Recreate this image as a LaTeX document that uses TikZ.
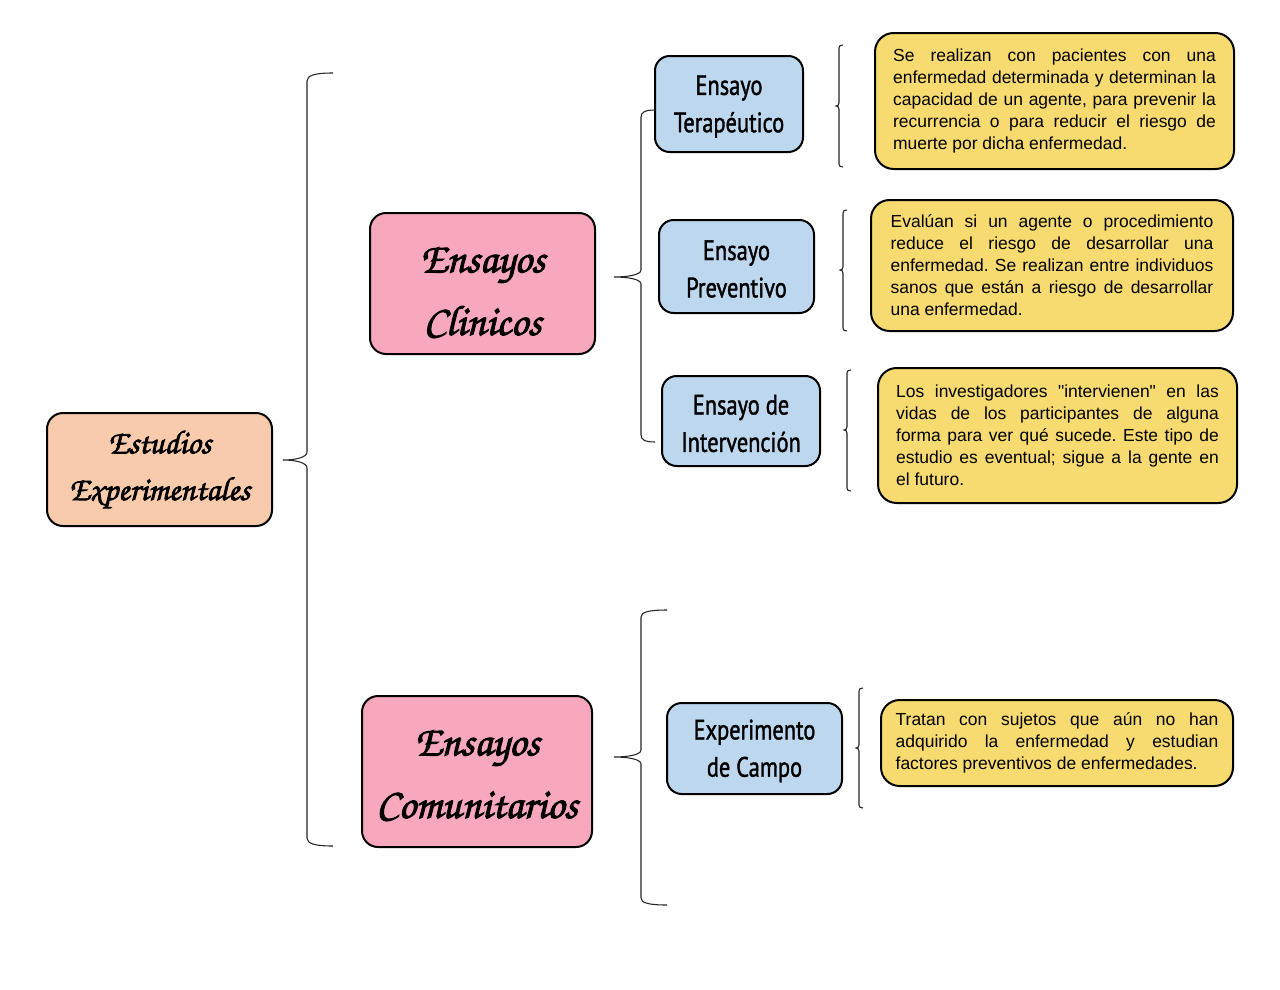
\documentclass[tikz,border=0pt]{standalone}
\usepackage{fontspec}
\setmainfont{Liberation Sans}[Ligatures=TeXOff]
\newfontfamily\chorusfont{texgyrechorus-mediumitalic}[Extension=.otf,FakeBold=2.2]
\newfontfamily\labelfont{PT Sans}[FakeStretch=0.8,FakeBold=1.3]
\usepackage{tikz}
\usetikzlibrary{positioning}

\definecolor{peach}{HTML}{F8CBAD}
\definecolor{rose}{HTML}{F7A8BC}
\definecolor{sky}{HTML}{BDD7EE}
\definecolor{sand}{HTML}{F7DB70}

\hyphenpenalty=10000
\exhyphenpenalty=10000
\tolerance=10000
\frenchspacing

\newcommand\drawbrace[7]{%
  \draw[bracestroke] (#2,#4) .. controls ({#1+0.3*(#2-#1)},#4) and (#1,{#4+0.3*#7}) .. (#1,{#4+#7})
    -- (#1,{#5-#7}) .. controls (#1,{#5-0.3*#7}) and ({#3+0.5*(#1-#3)},#5) .. (#3,#5)
    .. controls ({#3+0.5*(#1-#3)},#5) and (#1,{#5+0.3*#7}) .. (#1,{#5+#7})
    -- (#1,{#6-#7}) .. controls (#1,{#6-0.3*#7}) and ({#1+0.3*(#2-#1)},#6) .. (#2,#6);}

\begin{document}
\begin{tikzpicture}[x=0.75pt,y=-0.75pt,
    boxsize/.style 2 args={minimum width=#1*0.75pt,minimum height=#2*0.75pt},
    topic/.style={draw=black,line width=1.5pt,rounded corners=12pt,align=center,inner sep=0pt},
    root/.style={topic,fill=peach,font=\chorusfont\fontsize{25}{35}\selectfont},
    branch/.style={topic,fill=rose,font=\chorusfont\fontsize{32}{47}\selectfont},
    kind/.style={topic,fill=sky,rounded corners=11pt,text height=46.5pt,font=\labelfont\fontsize{21}{28}\selectfont},
    note/.style={topic,fill=sand,rounded corners=14pt,text width=242pt,align=justify,
      font=\fontsize{13.1}{16.5}\selectfont},
    bracestroke/.style={draw=black!85,line width=0.8pt}]
  \fill[white] (0,0) rectangle (1280,989);
  \useasboundingbox (0,0) rectangle (1280,989);

  \node[root,boxsize={225}{113}] (estudios) at (159.5,469.5) {Estudios\\Experimentales};
  \node[branch,boxsize={225}{141},text height=79.5pt] (clinicos) at (482.5,283.5) {Ensayos\\Clinicos};
  \node[branch,boxsize={230}{151},text height=72pt] (comunitarios) at (477,771.5) {Ensayos\\Comunitarios};

  \node[kind,boxsize={148}{96}] (terapeutico) at (729,104) {Ensayo\\Terapéutico};
  \node[kind,boxsize={155}{93}] (preventivo) at (736.5,266.5) {Ensayo\\Preventivo};
  \node[kind,boxsize={158}{90}] (intervencion) at (741,421) {Ensayo de\\Intervención};
  \node[kind,boxsize={175}{91}] (campo) at (754.5,748.5) {Experimento\\de Campo};

  \node[note,boxsize={359}{136}] (terapeuticotxt) at (1054.5,101) {Se realizan con pacientes con una\linebreak enfermedad determinada y determinan la\linebreak capacidad de un agente, para prevenir la\linebreak recurrencia o para reducir el riesgo de\linebreak muerte por dicha enfermedad.};
  \node[note,boxsize={362}{131}] (preventivotxt) at (1052,265.5) {Evalúan si un agente o procedimiento\linebreak reduce el riesgo de desarrollar una\linebreak enfermedad. Se realizan entre individuos\linebreak sanos que están a riesgo de desarrollar\linebreak una enfermedad.};
  \node[note,boxsize={359}{135}] (intervenciontxt) at (1057.5,435.5) {Los investigadores "intervienen" en las\linebreak vidas de los participantes de alguna\linebreak forma para ver qué sucede. Este tipo de\linebreak estudio es eventual; sigue a la gente en\linebreak el futuro.};
  \node[note,boxsize={352}{86}] (campotxt) at (1057,743) {Tratan con sujetos que aún no han\linebreak adquirido la enfermedad y estudian\linebreak factores preventivos de enfermedades.};

  \drawbrace{307}{333}{283}{73}{460}{846}{8}
  \drawbrace{641}{655}{614}{110}{277}{442}{7}
  \drawbrace{641}{667}{614}{610}{757}{905}{7}
  \drawbrace{839}{843}{836}{45}{106}{167}{3}
  \drawbrace{843}{847}{840}{210}{270}{331}{3}
  \drawbrace{847}{851}{844}{370}{430}{491}{3}
  \drawbrace{859}{863}{856}{688}{748}{808}{3}
\end{tikzpicture}
\end{document}
